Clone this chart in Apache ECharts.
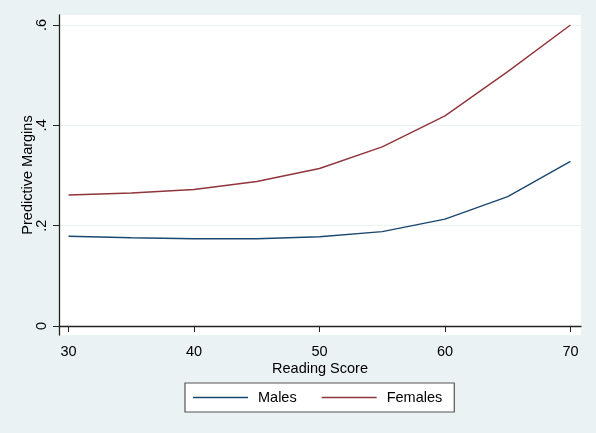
<!DOCTYPE html>
<html><head><meta charset="utf-8">
<script src="https://cdn.jsdelivr.net/npm/echarts@6/dist/echarts.min.js"></script>
<style>html,body{margin:0;padding:0;background:#EAF2F3;}#c{width:596px;height:433px;}</style>
</head><body><div id="c"></div>
<script>
const readingScores = [30, 35, 40, 45, 50, 55, 60, 65, 70];
const males = [0.179, 0.176, 0.174, 0.174, 0.178, 0.188, 0.213, 0.258, 0.328];
const females = [0.261, 0.265, 0.272, 0.288, 0.314, 0.357, 0.419, 0.507, 0.600];
const xTicks = [30, 40, 50, 60, 70];
const yTicks = [0, 0.2, 0.4, 0.6];
const yTickLabels = ['0', '.2', '.4', '.6'];

const chart = echarts.init(document.getElementById('c'));
const font = 'Liberation Sans, Arial, Helvetica, sans-serif';
chart.setOption({
  backgroundColor: '#EAF2F3',
  animation: false,
  grid: { left: 59, right: 15, top: 15, bottom: 98, show: true, backgroundColor: '#ffffff', borderWidth: 0 },
  xAxis: {
    type: 'value', min: 29.24, max: 70.84,
    name: 'Reading Score', nameLocation: 'middle', nameGap: 26, nameMoveOverlap: false,
    nameTextStyle: { fontFamily: font, fontSize: 14.5, color: '#000' },
    axisLine: { show: true, lineStyle: { color: '#222', width: 1.3 } },
    axisTick: { show: true, length: 6, lineStyle: { color: '#222' }, customValues: xTicks },
    axisLabel: { customValues: xTicks, fontFamily: font, fontSize: 14.5, color: '#000', margin: 9 },
    splitLine: { show: false }
  },
  yAxis: {
    type: 'value', min: -0.018, max: 0.62,
    name: 'Predictive Margins', nameLocation: 'middle', nameGap: 24, nameRotate: 90, nameMoveOverlap: false,
    nameTextStyle: { fontFamily: font, fontSize: 14.5, color: '#000' },
    axisLine: { show: true, lineStyle: { color: '#222', width: 1.3 } },
    axisTick: { show: true, length: 6, lineStyle: { color: '#222' }, customValues: yTicks },
    axisLabel: { customValues: yTicks, rotate: 90, fontFamily: font, fontSize: 14.5, color: '#000', margin: 10,
      formatter: function (v) { const i = yTicks.findIndex(t => Math.abs(t - v) < 1e-9); return i >= 0 ? yTickLabels[i] : ''; } },
    splitLine: { show: true, lineStyle: { color: '#EAF2F3', width: 1.2 } }
  },
  legend: {
    left: 185, top: 383, padding: [7, 12, 7, 8],
    backgroundColor: '#fff', borderColor: '#555', borderWidth: 1.2,
    icon: 'rect', itemWidth: 55, itemHeight: 1.4, itemGap: 25,
    textStyle: { fontFamily: font, fontSize: 14.5, color: '#000', padding: [0, 0, 0, 5] },
    data: ['Males', 'Females']
  },
  series: [
    { name: 'Males', type: 'line', symbol: 'none', data: readingScores.map((x, i) => [x, males[i]]),
      lineStyle: { color: '#1A476F', width: 1.4 }, itemStyle: { color: '#1A476F' } },
    { name: 'Females', type: 'line', symbol: 'none', data: readingScores.map((x, i) => [x, females[i]]),
      lineStyle: { color: '#90353B', width: 1.4 }, itemStyle: { color: '#90353B' } }
  ]
});
</script></body></html>
